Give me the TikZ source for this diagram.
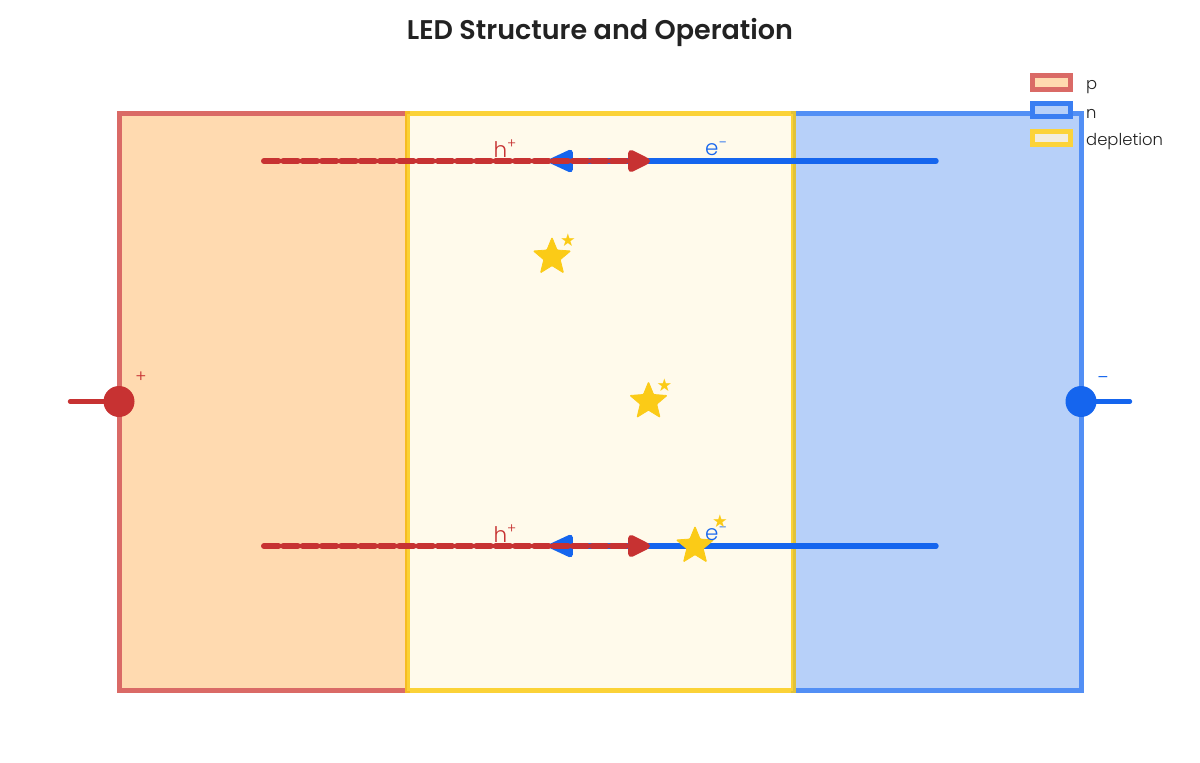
\documentclass[tikz,border=0pt]{standalone}
\usepackage{fontspec}
\setmainfont{Poppins Light}
\newfontfamily\titlefont{Poppins SemiBold}
\newfontfamily\symfont{DejaVu Sans}
\usetikzlibrary{arrows.meta,shapes.geometric}
\definecolor{redc}{HTML}{C73232}
\definecolor{bluec}{HTML}{1565EE}
\definecolor{yelc}{HTML}{FBCB17}
\definecolor{pfill}{HTML}{FFDAB0}
\definecolor{nfill}{HTML}{B7D0F9}
\definecolor{dfill}{HTML}{FFFAEB}
\definecolor{pline}{HTML}{DA6A66}
\definecolor{nline}{HTML}{528FF5}
\definecolor{inkc}{HTML}{222222}
\tikzset{
 region/.style={draw=#1,line width=5pt,inner sep=0pt,outer sep=0pt,anchor=north west},
 swatch/.style={draw=#1,line width=5pt,inner sep=0pt,outer sep=0pt,minimum width=38pt,minimum height=13.5pt},
 legendtext/.style={anchor=west,inner sep=0pt,text=inkc,font=\fontsize{16.4}{18}\selectfont},
 hole/.style={draw=redc,line width=6pt,line cap=round,dash pattern=on 14.5pt off 4.8pt,-{Triangle[length=26pt,width=24pt,round]}},
 electron/.style={draw=bluec,line width=5.4pt,line cap=round,-{Triangle[length=28pt,width=24pt,round]}},
 lead/.style={line width=4.4pt,line cap=round},
 terminal/.style={circle,minimum size=31pt,inner sep=0pt,outer sep=0pt},
 bigstar/.style={star,star points=5,star point ratio=2.25,fill=yelc,draw=yelc,line width=.8pt,inner sep=0pt,minimum size=39pt,rounded corners=.8pt},
 smallstar/.style={text=yelc,inner sep=0pt,font=\symfont\fontsize{17.5}{18}\selectfont},
 chargelabel/.style={inner sep=0pt,font=\fontsize{21.5}{24}\selectfont},
 signlabel/.style={inner sep=0pt,font=\fontsize{17}{18}\selectfont},
}
\newcommand{\sgn}[1]{\raisebox{.42em}{\fontsize{14}{14}\selectfont #1}}
\newcommand{\sgm}{\raisebox{.48em}{\symfont\fontsize{10}{10}\selectfont −}}
\begin{document}
\begin{tikzpicture}[x=1pt,y=-1pt]
\useasboundingbox (0,0) rectangle (1200,763);
\fill[white] (0,0) rectangle (1200,763);
\node[inner sep=0pt,text=inkc,font=\titlefont\fontsize{27}{30}\selectfont] (title) at (600,32) {LED Structure and Operation};
% regions
\node[region=pline,fill=pfill,minimum width=288pt,minimum height=577pt] (p) at (119,113.5) {};
\node[region=nline,fill=nfill,minimum width=288pt,minimum height=577pt] (n) at (793,113.5) {};
\node[region=yelc,draw opacity=.85,fill=dfill,minimum width=386pt,minimum height=577pt] (d) at (407,113.5) {};
% legend
\node[swatch=pline,fill=pfill] (lp) at (1051,82.5) {};
\node[swatch=nline!60!bluec,fill=nfill] (ln) at (1051,110) {};
\node[swatch=yelc!85!white,fill=black!5!dfill] (ld) at (1051,138) {};
\node[legendtext] (tp) at (1086,87) {p};
\node[legendtext] (tn) at (1086,113.5) {n};
\node[legendtext] (td) at (1086,141) {depletion};
% carriers, upper
\coordinate (e1a) at (936,161); \coordinate (e1b) at (549,161);
\coordinate (h1a) at (264,161); \coordinate (h1b) at (650,161);
\draw[electron] (e1a) -- (e1b);
\draw[hole] (h1a) -- (h1b);
\node[chargelabel,text=redc] (h1) at (505,148.5) {h\sgn{+}};
\node[chargelabel,text=bluec] (e1) at (716,148.5) {e\sgm};
% carriers, lower
\coordinate (e2a) at (936,546); \coordinate (e2b) at (549,546);
\coordinate (h2a) at (264,546); \coordinate (h2b) at (650,546);
\draw[electron] (e2a) -- (e2b);
\draw[hole] (h2a) -- (h2b);
% stars
\node[bigstar] (s1) at (552,257) {};
\node[smallstar] (t1) at (568,240.5) {★};
\node[bigstar] (s2) at (648.5,401.5) {};
\node[smallstar] (t2) at (664.5,385.5) {★};
\node[bigstar] (s3) at (695,546) {};
\node[chargelabel,text=redc] (h2) at (505,533.5) {h\sgn{+}};
\node[chargelabel,text=bluec] (e2) at (716,533.5) {e\sgm};
\node[smallstar] (t3) at (720,521.5) {★};
% terminals
\coordinate (la) at (70,401.5); \coordinate (ra) at (1130,401.5);
\node[terminal,fill=redc] (tl) at (119,401.5) {};
\node[terminal,fill=bluec] (tr) at (1081,401.5) {};
\draw[lead,redc] (la) -- (tl);
\draw[lead,bluec] (ra) -- (tr);
\node[signlabel,text=redc] (plus) at (141,377) {+};
\node[inner sep=0pt,text=bluec,font=\symfont\fontsize{14}{14}\selectfont] (minus) at (1103,379) {−};
\end{tikzpicture}
\end{document}
